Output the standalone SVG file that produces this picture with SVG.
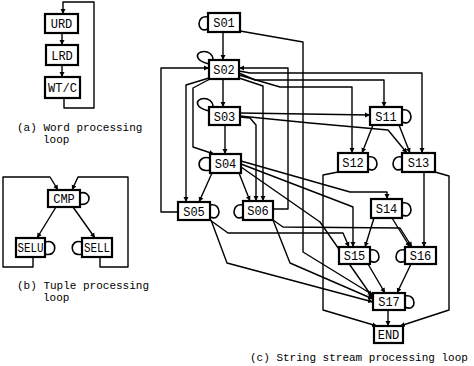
<svg xmlns="http://www.w3.org/2000/svg" width="474" height="366" viewBox="0 0 474 366">
<style>
.box{fill:#fff;stroke:#000;stroke-width:2.2}
.lbl{font-family:"Liberation Mono","DejaVu Sans Mono",monospace;font-size:12px;text-anchor:middle;fill:#000}
.cap{font-family:"Liberation Mono","DejaVu Sans Mono",monospace;font-size:11px;fill:#000}
.e{fill:none;stroke:#000;stroke-width:1.4;stroke-linejoin:round}
.ea{fill:none;stroke:#000;stroke-width:1.4;stroke-linejoin:round;marker-end:url(#ah)}
.lp{fill:none;stroke:#000;stroke-width:1.6}
</style>
<defs>
<marker id="ah" markerUnits="userSpaceOnUse" markerWidth="6" markerHeight="6" refX="5" refY="3" orient="auto">
<path d="M0,0.5 L5,3 L0,5.5 z" fill="#000"/>
</marker>
</defs>

<g id="connectors">
<path class="ea" d="M64,98 L64,108 L94,108 L94,2 L63,2 L63,14"/>
<path class="ea" d="M62,33 L62,45"/>
<path class="ea" d="M62,65 L62,77"/>
<path class="ea" d="M33,257 L33,267 L3,267 L3,177 L50,177 L58,190"/>
<path class="ea" d="M100,257 L100,267 L128,267 L128,177 L78,177 L72,190"/>
<path class="ea" d="M56,207 L37,238"/>
<path class="ea" d="M73,207 L95,238"/>
<path class="ea" d="M223,32 L223,60"/>
<path class="ea" d="M240,31 L303,42 L303,252 L373,295"/>
<path class="ea" d="M223,79 L223,107"/>
<path class="ea" d="M225,125 L225,154"/>
<path class="ea" d="M209,78 L186,85 L186,202"/>
<path class="ea" d="M210,79 L193,88 L193,147 L214,154"/>
<path class="ea" d="M178,212 L161,212 L161,68 L209,68"/>
<path class="ea" d="M273,209 L288,209 L288,68 L239,68"/>
<path class="ea" d="M239,78 L263,86 L263,201"/>
<path class="ea" d="M240,117 L250,118 L256,125 L256,201"/>
<path class="ea" d="M212,173 L199,202"/>
<path class="ea" d="M239,173 L250,201"/>
<path class="ea" d="M239,71 L250,73 L422,73 L422,153"/>
<path class="ea" d="M239,73 L255,80 L384,80 L384,107"/>
<path class="ea" d="M239,75 L280,87 L352,87 L352,153"/>
<path class="ea" d="M240,113 L370,115"/>
<path class="ea" d="M240,116 L310,123 L388,130 L407,153"/>
<path class="ea" d="M373,125 L362,153"/>
<path class="ea" d="M399,125 L410,153"/>
<path class="ea" d="M338,172 L323,175 L323,310 L377,326"/>
<path class="ea" d="M435,172 L449,176 L449,310 L400,326"/>
<path class="ea" d="M241,161 L350,192 L387,192 L387,199"/>
<path class="ea" d="M241,164 L348,205 L353,207 L353,247"/>
<path class="ea" d="M241,167 L320,222 L373,298"/>
<path class="ea" d="M210,220 L228,233 L343,233 L349,247"/>
<path class="ea" d="M211,220 L227,263 L373,302"/>
<path class="ea" d="M273,220 L283,227 L400,228 L412,247"/>
<path class="ea" d="M273,220 L290,263 L373,299"/>
<path class="ea" d="M374,218 L365,247"/>
<path class="ea" d="M392,218 L410,247"/>
<path class="ea" d="M424,172 L424,247"/>
<path class="ea" d="M368,264 L385,293"/>
<path class="ea" d="M411,264 L397,293"/>
<path class="ea" d="M388,310 L388,326"/>
</g>

<g id="loops">
<path class="lp" d="M80,193 C92,190 92,207 80,204"/>
<path class="lp" d="M45,242 C58,238 58,258 45,254"/>
<path class="lp" d="M82,242 C69,238 69,258 82,254"/>
<path class="lp" d="M208,17 C196,14 196,34 208,29"/>
<path class="lp" d="M213,60 C213,48 194,50 198,58 C200,62 205,63 209,64"/>
<path class="lp" d="M213,107 C213,95 194,97 198,105 C200,109 205,110 209,111"/>
<path class="lp" d="M210,158 C196,154 195,174 210,170"/>
<path class="lp" d="M210,205 C222,202 222,222 210,217"/>
<path class="lp" d="M243,205 C231,202 231,222 243,217"/>
<path class="lp" d="M402,110 C414,107 414,127 402,122"/>
<path class="lp" d="M368,157 C380,154 380,174 368,169"/>
<path class="lp" d="M402,157 C390,154 390,174 402,169"/>
<path class="lp" d="M402,203 C414,200 414,220 402,215"/>
<path class="lp" d="M370,250 C382,247 382,267 370,261"/>
<path class="lp" d="M405,250 C393,247 393,267 405,261"/>
<path class="lp" d="M405,296 C417,293 417,313 405,307"/>
</g>

<g id="URD"><rect class="box" x="45" y="14" width="33" height="19"/><text class="lbl" x="61.5" y="28">URD</text></g>
<g id="LRD"><rect class="box" x="46" y="45" width="32" height="20"/><text class="lbl" x="62" y="59.5">LRD</text></g>
<g id="WTC"><rect class="box" x="45" y="77" width="35" height="21"/><text class="lbl" x="62.5" y="92">WT/C</text></g>

<g id="CMP"><rect class="box" x="48" y="190" width="32" height="17"/><text class="lbl" x="64" y="203">CMP</text></g>
<g id="SELU"><rect class="box" x="16" y="238" width="29" height="19"/><text class="lbl" x="30.5" y="252" textLength="26" lengthAdjust="spacingAndGlyphs">SELU</text></g>
<g id="SELL"><rect class="box" x="82" y="238" width="30" height="19"/><text class="lbl" x="97" y="252" textLength="26" lengthAdjust="spacingAndGlyphs">SELL</text></g>

<g id="S01"><rect class="box" x="208" y="13" width="32" height="19"/><text class="lbl" x="224" y="27">S01</text></g>
<g id="S02"><rect class="box" x="209" y="60" width="30" height="19"/><text class="lbl" x="224" y="74">S02</text></g>
<g id="S03"><rect class="box" x="209" y="107" width="31" height="18"/><text class="lbl" x="224.5" y="120.5">S03</text></g>
<g id="S04"><rect class="box" x="210" y="154" width="31" height="19"/><text class="lbl" x="225.5" y="168">S04</text></g>
<g id="S05"><rect class="box" x="178" y="202" width="32" height="18"/><text class="lbl" x="194" y="215.5">S05</text></g>
<g id="S06"><rect class="box" x="243" y="201" width="30" height="19"/><text class="lbl" x="258" y="215">S06</text></g>
<g id="S11"><rect class="box" x="370" y="107" width="32" height="18"/><text class="lbl" x="386" y="120.5">S11</text></g>
<g id="S12"><rect class="box" x="338" y="153" width="30" height="19"/><text class="lbl" x="353" y="167">S12</text></g>
<g id="S13"><rect class="box" x="402" y="153" width="33" height="19"/><text class="lbl" x="418.5" y="167">S13</text></g>
<g id="S14"><rect class="box" x="371" y="199" width="31" height="19"/><text class="lbl" x="386.5" y="213">S14</text></g>
<g id="S15"><rect class="box" x="339" y="247" width="31" height="17"/><text class="lbl" x="354.5" y="260">S15</text></g>
<g id="S16"><rect class="box" x="405" y="247" width="31" height="17"/><text class="lbl" x="420.5" y="260">S16</text></g>
<g id="S17"><rect class="box" x="373" y="293" width="32" height="17"/><text class="lbl" x="389" y="306">S17</text></g>
<g id="END"><rect class="box" x="374" y="326" width="29" height="17"/><text class="lbl" x="388.5" y="339">END</text></g>

<text class="cap" x="17" y="131">(a) Word processing</text>
<text class="cap" x="43" y="143">loop</text>
<text class="cap" x="17" y="289">(b) Tuple processing</text>
<text class="cap" x="43" y="301">loop</text>
<text class="cap" x="250" y="361">(c) String stream processing loop</text>
</svg>
